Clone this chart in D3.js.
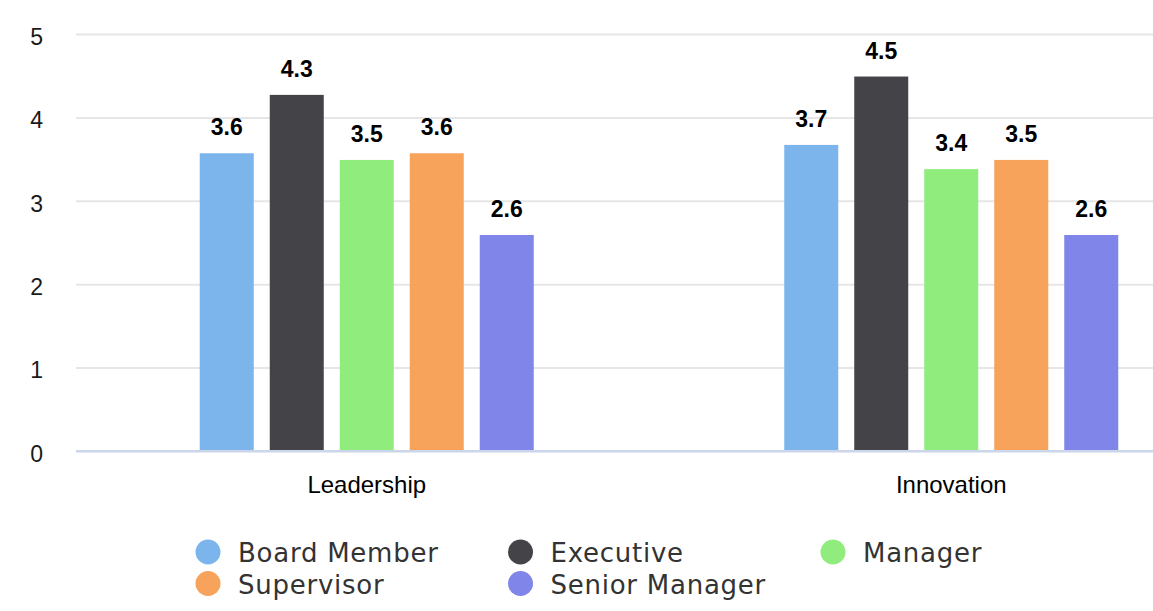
<!DOCTYPE html>
<html>
<head>
<meta charset="utf-8">
<script src="https://cdn.jsdelivr.net/npm/d3@7"></script>
<style>
  body { margin: 0; background: #fff; }
  svg { display: block; }
</style>
</head>
<body>
<svg id="drawing_region"></svg>
<script>
// data
const categories = ["Leadership", "Innovation"];
const seriesNames = ["Board Member", "Executive", "Manager", "Supervisor", "Senior Manager"];
const leadershipValues = [3.57, 4.27, 3.49, 3.57, 2.59];
const innovationValues = [3.67, 4.49, 3.38, 3.49, 2.59];
const yTicks = [0, 1, 2, 3, 4, 5];
const colors = ["#7cb5ec", "#434348", "#90ed7d", "#f7a35c", "#8085e9"];

const valuesByCategory = { Leadership: leadershipValues, Innovation: innovationValues };

const config = {
    width: 1153,
    height: 611,
    plotLeft: 76,
    plotTop: 34,
    plotBottom: 451
};

const svg = d3.select('#drawing_region')
    .attr('width', config.width)
    .attr('height', config.height);

const yscale = d3.scaleLinear()
    .domain([0, 5])
    .range([config.plotBottom, config.plotTop]);

// the plot is wider than the picture (it is cut at the right)
const xscale = d3.scaleBand()
    .domain(categories)
    .range([74.5, 1243.5]);

const inner = d3.scaleBand()
    .domain(seriesNames)
    .range([0, 334])
    .paddingInner(16 / 70)
    .paddingOuter(0);

const color = d3.scaleOrdinal().domain(seriesNames).range(colors);

// y axis + grid
const yaxis = d3.axisLeft(yscale)
    .tickValues(yTicks)
    .tickFormat(d3.format('d'))
    .tickSize(-(config.width - config.plotLeft))
    .tickPadding(33);

const yaxis_group = svg.append('g')
    .attr('transform', `translate(${config.plotLeft}, 0)`)
    .call(yaxis);
yaxis_group.select('.domain').remove();
yaxis_group.selectAll('.tick line')
    .attr('stroke', d => d === 0 ? '#ccd6eb' : '#e6e6e6')
    .attr('stroke-width', 2);
yaxis_group.selectAll('.tick text')
    .attr('dy', '0.45em')
    .attr('fill', '#1a1a1a')
    .style('font-family', '"Liberation Sans", Arial, sans-serif')
    .style('font-size', '23px');

// bars
const groups = svg.selectAll('.cat')
    .data(categories)
    .enter()
    .append('g')
    .attr('class', 'cat')
    .attr('transform', c => `translate(${xscale(c) + xscale.bandwidth() / 2 - 167}, 0)`);

const points = groups.selectAll('rect')
    .data(c => seriesNames.map((s, i) => ({ series: s, value: valuesByCategory[c][i] })))
    .enter();

points.append('rect')
    .attr('x', d => inner(d.series))
    .attr('y', d => yscale(d.value))
    .attr('width', inner.bandwidth())
    .attr('height', d => yscale(0) - yscale(d.value))
    .attr('fill', d => color(d.series));

points.append('text')
    .attr('x', d => inner(d.series) + inner.bandwidth() / 2)
    .attr('y', d => yscale(d.value) - 18)
    .attr('text-anchor', 'middle')
    .style('font-family', '"Liberation Sans", Arial, sans-serif')
    .style('font-size', '23px')
    .style('font-weight', 'bold')
    .attr('fill', '#000')
    .text(d => d3.format('.1f')(d.value));

// baseline drawn over the bars' feet
svg.append('line')
    .attr('x1', config.plotLeft)
    .attr('x2', config.width)
    .attr('y1', yscale(0))
    .attr('y2', yscale(0))
    .attr('stroke', '#ccd6eb')
    .attr('stroke-width', 2);

// x axis
const xaxis = d3.axisBottom(xscale)
    .tickSize(0)
    .tickPadding(25);

const xaxis_group = svg.append('g')
    .attr('transform', `translate(0, ${config.plotBottom})`)
    .call(xaxis);
xaxis_group.select('.domain').remove();
xaxis_group.selectAll('.tick text')
    .attr('fill', '#000')
    .style('font-family', '"Liberation Sans", Arial, sans-serif')
    .style('font-size', '24px');

// legend
const legendCols = [208, 520.5, 833];
const legendRows = [552, 583.5];

const legend = svg.selectAll('.legend')
    .data(seriesNames)
    .enter()
    .append('g')
    .attr('class', 'legend')
    .attr('transform', (d, i) => `translate(${legendCols[i % 3]}, ${legendRows[Math.floor(i / 3)]})`);

legend.append('circle')
    .attr('r', 12.5)
    .attr('fill', d => color(d));

legend.append('text')
    .attr('x', 30)
    .attr('y', 10)
    .attr('fill', '#333')
    .style('font-family', '"DejaVu Sans", Verdana, sans-serif')
    .style('font-size', '26px')
    .style('letter-spacing', '0.75px')
    .text(d => d);
</script>
</body>
</html>
